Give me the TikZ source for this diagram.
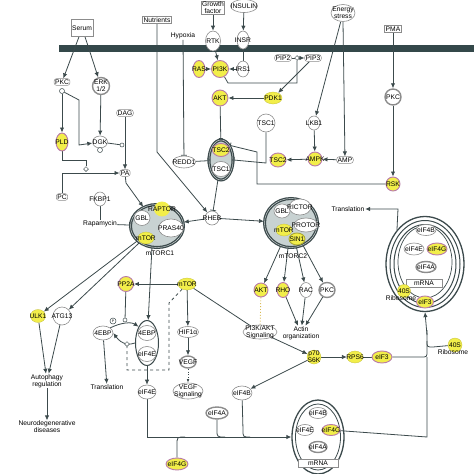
\documentclass[tikz,border=0pt]{standalone}
\usepackage{fontspec}
\setmainfont{Liberation Sans}
\usetikzlibrary{shapes.geometric,arrows.meta,backgrounds}
\definecolor{memb}{HTML}{34484A}
\definecolor{lnc}{HTML}{3C4A4C}
\definecolor{yel}{HTML}{F2EE4A}
\definecolor{pinkb}{HTML}{B87AA8}
\definecolor{grayb}{HTML}{8C8C8C}
\definecolor{cplx}{HTML}{C8D2D2}
\definecolor{dotc}{HTML}{D8B850}
\begin{document}
\begin{tikzpicture}[x=1pt,y=-1pt, font=\fontsize{6.7}{6.9}\selectfont,
  every label/.style={font=\fontsize{6.7}{6.9}\selectfont, inner sep=0pt},
  yg/.style={ellipse, draw=pinkb, line width=0.9pt, fill=yel, inner sep=0pt},
  yd/.style={ellipse, draw=yel!80!black, line width=0.3pt, fill=yel, inner sep=0pt},
  wg/.style={ellipse, draw=grayb, line width=0.6pt, fill=white, inner sep=0pt},
  gg/.style={ellipse, draw=grayb, line width=1.4pt, fill=white, inner sep=0pt},
  bx/.style={rectangle, draw=grayb, line width=0.5pt, fill=white, inner sep=1pt},
  rbx/.style={rectangle, rounded corners=2.5pt, draw=grayb, line width=0.5pt, fill=white, inner sep=1pt},
  tx/.style={inner sep=0.5pt, align=center},
  cpx/.style={ellipse, draw=lnc, line width=1.3pt, fill=cplx, inner sep=0pt, double=cplx!60!white, double distance=0.4pt},
  ring/.style={ellipse, draw=lnc, line width=1pt, inner sep=0pt},
  ln/.style={draw=lnc, line width=0.8pt},
  ar/.style={ln, -{Latex[length=5pt,width=4.4pt]}},
  ib/.style={ln, -{Bar[width=6pt]}},
  mk/.style={circle, draw=lnc, fill=white, line width=0.5pt, inner sep=0pt, minimum size=4pt},
  dk/.style={diamond, draw=lnc, fill=white, line width=0.5pt, inner sep=0pt, minimum size=5pt}
]
\useasboundingbox (0,0) rectangle (474,474);
% ---------- top ----------
\node[bx, minimum width=19pt, minimum height=17pt] (serum) at (82,28) {Serum};
\node[bx] (nutr) at (157,20) {Nutrients};
\node[bx, align=center, inner sep=0.8pt] (gf) at (213,8) {Growth\\factor};
\node[wg, minimum width=27pt, minimum height=13pt, label={center:INSULIN}] (ins) at (244,6) {};
\node[wg, minimum width=15pt, minimum height=20pt, label={center:RTK}] (rtk) at (213,41) {};
\node[wg, minimum width=12pt, minimum height=18pt, label={center:INSR}] (insr) at (243,40) {};
\node[tx] (hyp) at (183,36) {Hypoxia};
\node[wg, minimum width=24pt, minimum height=17pt, label={[align=center]center:Energy\\stress}] (es) at (343,13) {};
\node[bx] (pma) at (393,29) {PMA};
\node[rbx] (pip2) at (283,58) {PIP2};
\node[rbx] (pip3) at (313,58) {PIP3};
\node[dk] (d1) at (297,58) {};
% ---------- left column ----------
\node[rbx] (pkcl) at (62,82) {PKC};
\node[mk, minimum size=5pt] (pkcm) at (62,91) {};
\node[gg, minimum width=17pt, minimum height=17pt, label={[align=center]center:ERK\\1/2}] (erk) at (101,86) {};
\node[rbx] (dag) at (125,113) {DAG};
\node[yg, minimum width=12pt, minimum height=18pt, label={center:PLD}] (pld) at (62,142) {};
\node[wg, minimum width=15pt, minimum height=12pt, label={center:DGK}] (dgk) at (100,142) {};
\node[mk, minimum size=5pt] (dgkm) at (100,150) {};
\node[mk] (c1) at (122,145) {};
\node[dk] (d2) at (86,169) {};
\node[rbx] (pa) at (125,173) {PA};
\node[rbx] (pc) at (62,197) {PC};
\node[wg, minimum width=12pt, minimum height=14pt, label={center:FKBP1}] (fkbp) at (100,199) {};
\node[tx, fill=white] (rapa) at (100,224) {Rapamycin};
% ---------- middle top ----------
\node[yg, minimum width=12pt, minimum height=17pt, label={center:RAS}] (ras) at (199,69) {};
\node[yg, minimum width=17pt, minimum height=17pt, label={center:PI3K}] (pi3k) at (220,69) {};
\node[wg, minimum width=12pt, minimum height=16pt, label={center:IRS1}] (irs1) at (243,69) {};
\node[yd, minimum width=18pt, minimum height=12pt, label={center:PDK1}] (pdk1) at (273,98) {};
\node[yg, minimum width=16pt, minimum height=16pt, label={center:AKT}] (akt) at (220,98) {};
\node[wg, minimum width=18pt, minimum height=18pt, label={center:TSC1}] (tsc1a) at (266,123) {};
\node[wg, minimum width=12pt, minimum height=14pt, label={center:LKB1}] (lkb1) at (314,123) {};
\node[cpx, minimum width=24pt, minimum height=40pt] (tscc) at (221,160) {};
\node[yg, minimum width=17pt, minimum height=13pt, label={center:TSC2}] (tsc2) at (221,150) {};
\node[wg, minimum width=18pt, minimum height=15pt, label={center:TSC1}] (tsc1b) at (221,169) {};
\node[wg, minimum width=23pt, minimum height=12pt, label={center:REDD1}] (redd1) at (184,162) {};
\node[yg, minimum width=16pt, minimum height=14pt, label={center:TSC2}] (tsc2b) at (278,160) {};
\node[yg, minimum width=14pt, minimum height=14pt, label={center:AMPK}] (ampk) at (315,159) {};
\node[rbx] (amp) at (345,160) {AMP};
\node[gg, minimum width=16pt, minimum height=16pt, label={center:PKC}] (pkcr) at (393,97) {};
\node[yg, minimum width=14pt, minimum height=14pt, label={center:RSK}] (rsk) at (393,184) {};
\node[wg, minimum width=14pt, minimum height=14pt, label={center:RHEB}] (rheb) at (212,218) {};
% ---------- mTORC1 ----------
\node[cpx, minimum width=53pt, minimum height=43pt] (mtorc1) at (157,226) {};
\node[wg, minimum width=16pt, minimum height=15pt, label={center:GBL}] (gbl1) at (142,218) {};
\node[yg, draw=yel, minimum width=15pt, minimum height=14pt, label={center:RAPTOR}] (raptor) at (162,209) {};
\node[wg, minimum width=25pt, minimum height=18pt, label={center:PRAS40}] (pras) at (171,228) {};
\node[yd, minimum width=16pt, minimum height=12pt, label={center:mTOR}] (mtor1) at (146,238) {};
\node[tx] (lc1) at (160,253) {mTORC1};
% ---------- mTORC2 ----------
\node[cpx, minimum width=53pt, minimum height=49pt] (mtorc2) at (291,223) {};
\node[wg, minimum width=16pt, minimum height=14pt, label={center:GBL}] (gbl2) at (282,211) {};
\node[wg, minimum width=22pt, minimum height=16pt, label={center:RICTOR}] (rictor) at (300,207) {};
\node[wg, minimum width=24pt, minimum height=14pt, label={center:PROTOR}] (protor) at (306,225) {};
\node[yd, minimum width=16pt, minimum height=12pt, label={center:mTOR}] (mtor2) at (284,230) {};
\node[yg, draw=yel!70!black, minimum width=16pt, minimum height=12pt, label={center:SIN1}] (sin1) at (297,239) {};
\node[tx] (lc2) at (293,256) {mTORC2};
\node[yg, minimum width=14pt, minimum height=14pt, label={center:AKT}] (akt2) at (261,290) {};
\node[yg, minimum width=12pt, minimum height=15pt, label={center:RHO}] (rho) at (283,290) {};
\node[wg, minimum width=12pt, minimum height=15pt, label={center:RAC}] (rac) at (306,290) {};
\node[gg, minimum width=16pt, minimum height=15pt, label={center:PKC}] (pkc2) at (327,290) {};
\node[tx] (actin) at (301,333) {Actin\\organization};
\node[tx] (transr) at (348,209) {Translation};
% ---------- right ribosome complex ----------
\node[ring, line width=1.3pt, minimum width=78pt, minimum height=95pt] (bigc) at (425,264) {};
\node[ring, minimum width=70pt, minimum height=87pt] (r2) at (425,264) {};
\node[ring, minimum width=62pt, minimum height=79pt] (r3) at (425,264) {};
\node[ring, line width=0.7pt, minimum width=54pt, minimum height=72pt] (r4) at (425,262) {};
\node[wg, minimum width=20pt, minimum height=11pt, label={center:eIF4B}] (b4b) at (426,230) {};
\node[wg, minimum width=20pt, minimum height=12pt, label={center:eIF4E}] (b4e) at (414,249) {};
\node[yg, minimum width=20pt, minimum height=12pt, label={center:eIF4G}] (b4g) at (437,249) {};
\node[gg, minimum width=20pt, minimum height=11pt, label={center:eIF4A}] (b4a) at (426,267) {};
\node[bx, minimum width=36pt, minimum height=8pt, inner sep=0pt] (bmrna) at (424,283) {mRNA};
\node[yd, minimum width=13pt, minimum height=13pt, label={center:40S}] (b40s) at (404,291) {};
\node[tx] (bribo) at (401,298) {Ribosome};
\node[yg, minimum width=17pt, minimum height=12pt, label={center:eIF3}] (beif3) at (425,302) {};
% ---------- lower left ----------
\node[yd, minimum width=15pt, minimum height=13pt, label={center:ULK1}] (ulk1) at (38,316) {};
\node[wg, minimum width=18pt, minimum height=18pt, label={center:ATG13}] (atg13) at (62,316) {};
\node[tx] (auto) at (47,381) {Autophagy\\regulation};
\node[tx] (neuro) at (47,427) {Neurodegenerative\\diseases};
\node[yg, minimum width=15pt, minimum height=15pt, label={center:PP2A}] (pp2a) at (126,284) {};
\node[yd, minimum width=18pt, minimum height=12pt, label={center:mTOR}] (mtorl) at (187,284) {};
\node[wg, minimum width=20pt, minimum height=14pt, label={center:4EBP}] (ebpl) at (103,333) {};
\node[mk, minimum size=6pt, font=\fontsize{3.5}{4}\selectfont] (pm) at (113,321) {P};
\node[ellipse, draw=lnc, line width=1pt, fill=white, inner sep=0pt, minimum width=23pt, minimum height=45pt] (ecx) at (147,343) {};
\node[wg, minimum width=18pt, minimum height=15pt, label={center:4EBP}] (ecx1) at (147,333) {};
\node[wg, minimum width=18pt, minimum height=15pt, label={center:eIF4E}] (ecx2) at (147,354) {};
\node[mk] (c2) at (125,320) {};
\node[dk] (d3) at (127,344) {};
\node[tx] (transl) at (107,387) {Translation};
\node[wg, minimum width=18pt, minimum height=14pt, label={center:eIF4E}] (e4el) at (147,392) {};
\node[wg, minimum width=21pt, minimum height=11pt, label={center:HIF1α}] (hif) at (188,332) {};
\node[gg, minimum width=16pt, minimum height=12pt, label={center:VEGF}] (vegf) at (188,362) {};
\node[wg, minimum width=30pt, minimum height=16pt, label={[align=center]center:VEGF\\Signaling}] (vegfs) at (188,391) {};
\node[wg, minimum width=34pt, minimum height=14pt, label={[align=center]center:PI3K/AKT\\Signaling}] (pi3ks) at (260,332) {};
\node[yd, minimum width=14pt, minimum height=14pt, label={[align=center]center:p70\\S6K}] (s6k) at (314,357) {};
\node[yd, minimum width=16pt, minimum height=12pt, label={center:RPS6}] (rps6) at (355,357) {};
\node[yg, minimum width=20pt, minimum height=12pt, label={center:eIF3}] (eif3) at (382,357) {};
\node[yd, minimum width=14pt, minimum height=14pt, label={center:40S}] (s40) at (455,345) {};
\node[tx] (ribo) at (453,352) {Ribosome};
\node[gg, minimum width=22pt, minimum height=12pt, label={center:eIF4A}] (e4a) at (217,413) {};
\node[wg, minimum width=20pt, minimum height=14pt, label={center:eIF4B}] (e4b) at (242,393) {};
\node[yg, minimum width=22pt, minimum height=12pt, label={center:eIF4G}] (e4g) at (177,464) {};
% ---------- bottom complex ----------
\node[ring, line width=1.3pt, minimum width=52pt, minimum height=74pt] (cb) at (318,437) {};
\node[ring, line width=0.8pt, minimum width=45pt, minimum height=66pt] (cb2) at (318,437) {};
\node[wg, minimum width=18pt, minimum height=11pt, label={center:eIF4B}] (c4b) at (318,413) {};
\node[wg, minimum width=17pt, minimum height=11pt, label={center:eIF4E}] (c4e) at (305,430) {};
\node[yg, minimum width=18pt, minimum height=11pt, label={center:eIF4G}] (c4g) at (331,430) {};
\node[gg, minimum width=18pt, minimum height=11pt, label={center:eIF4A}] (c4a) at (318,447) {};
\node[bx, minimum width=40pt, minimum height=8pt, inner sep=0pt] (cmrna) at (318,463) {mRNA};
% coordinates
\coordinate (j1) at (427,437);
% ---------- edges ----------
\begin{pgfonlayer}{background}
\fill[memb] (59,45) rectangle (474,52);
\draw[ar] ([xshift=-3pt]serum.south) -- (pkcl);
\draw[ar] ([xshift=3pt]serum.south) -- (erk);
\draw[ar] (pkcm) -- (pld);
\draw[ar] (pkcm) -- (79,100) -- (79,145) -- (dgk);
\draw[ar] (erk) -- (dgk);
\draw[ln] (dgk) -- (c1);
\draw[ar] (dag) -- (pa);
\draw[ln] (pld) -- (62,160) -- (86,160) -- (d2);
\draw[ar] (pc) -- (62,173) -- (pa);
\draw[ar] (pa) -- (126,183) -- (mtorc1);
\draw[ln] (fkbp) -- (rapa);
\draw[ib] (rapa) -- (mtorc1);
\draw[ar] (nutr) -- (157,152) -- (rheb);
\draw[ar] (gf) -- (rtk);
\draw[ar] (ins) -- (insr);
\draw[ln] (insr) -- (irs1);
\draw[ar] (rtk) -- (pi3k);
\draw[ar] (ras) -- (pi3k);
\draw[ar] (irs1) -- (pi3k);
\draw[ln] (pi3k) -- (228,83) -- (297,83) -- (d1);
\draw[ar] (pip2) -- (pip3);
\draw[ar] (pip3) -- (pdk1);
\draw[ar] (pdk1) -- (akt);
\draw[ar] (akt) -- (tsc2);
\draw[ib] (hyp) -- (redd1);
\draw[ib] (redd1) -- (tscc);
\draw[ib] (tsc1a) -- (266,150) -- (266,163) -- (tscc.east);
\draw[ar] (es) -- (lkb1);
\draw[ar] (es.south) -- (amp);
\draw[ar] (lkb1) -- (ampk);
\draw[ar] (amp) -- (ampk);
\draw[ar] (ampk) -- (tsc2b);
\draw[ar] (pma) -- (pkcr);
\draw[ar] (pkcr) -- (rsk);
\draw[ib] (rsk) -- (257,184) -- (257,152) -- (tscc.north east);
\draw[ib] (tscc) -- (rheb);
\draw[ar] (rheb) -- (mtorc1);
\draw[ar] (rheb) -- (mtorc2);
\draw[ar] (mtorc1) -- (ulk1);
\draw[ar] (mtorc1) -- (atg13);
\draw[ar] (ulk1) -- (auto);
\draw[ar] (atg13) -- (auto);
\draw[ar] (auto) -- (neuro);
\draw[ar] (152,247) -- (ecx);
\draw[ar] (mtorl) -- (pp2a);
\draw[ln] (pp2a) -- (c2);
\draw[ar] (ebpl.north east) .. controls (122,322) and (132,322) .. (ecx.north west);
\draw[ar] (ecx.west) .. controls (130,345) and (122,345) .. (ebpl.east);
\draw[ln, dashed] (mtorl) -- (169,303) -- (169,370) -- (127,370) -- (d3);
\draw[ar] (ebpl) -- (transl);
\draw[ar] (ecx) -- (e4el);
\draw[ar] (e4el) -- (147,437) -- (cb.west);
\draw[ln] (e4a) -- (217,430) .. controls (217,437) .. (225,437);
\draw[ln] (e4b) -- (243,430) .. controls (243,437) .. (250,437);
\draw[ln] (e4g) -- (177,445) .. controls (177,437) .. (185,437);
\draw[ar] (mtorl) -- (hif);
\draw[ar] (hif) -- (vegf);
\draw[ln, dotted, -{Latex[length=3.5pt]}] (vegf) -- (vegfs);
\draw[ln] (mtorl) -- (pi3ks);
\draw[ar] (pi3ks) -- (s6k);
\draw[dotc, line width=0.9pt, dotted] (akt2) -- (pi3ks);
\draw[ar] (mtorc2) -- (akt2);
\draw[ar] (mtorc2) -- (rho);
\draw[ar] (mtorc2) -- (rac);
\draw[ar] (mtorc2) -- (pkc2);
\draw[ar] (rho) -- (actin);
\draw[ar] (rac) -- (actin);
\draw[ar] (pkc2) -- (actin);
\draw[ar] (s6k) -- (rps6);
\draw[ln] (rps6) -- (eif3);
\draw[ar] (s6k) -- (e4b);
\draw[ln] (eif3) -- (421,357) .. controls (427,357) .. (427,351) -- (427,330);
\draw[ln] (s40) -- (433,347) .. controls (427,347) .. (427,341);
\draw[ln] (c4g) -- (j1) -- (427,357);
\draw[ar] (427,335) -- (bigc.south);
\draw[ar] (bigc.north west) -- (398,209) -- (transr);
\end{pgfonlayer}
\end{tikzpicture}
\end{document}
